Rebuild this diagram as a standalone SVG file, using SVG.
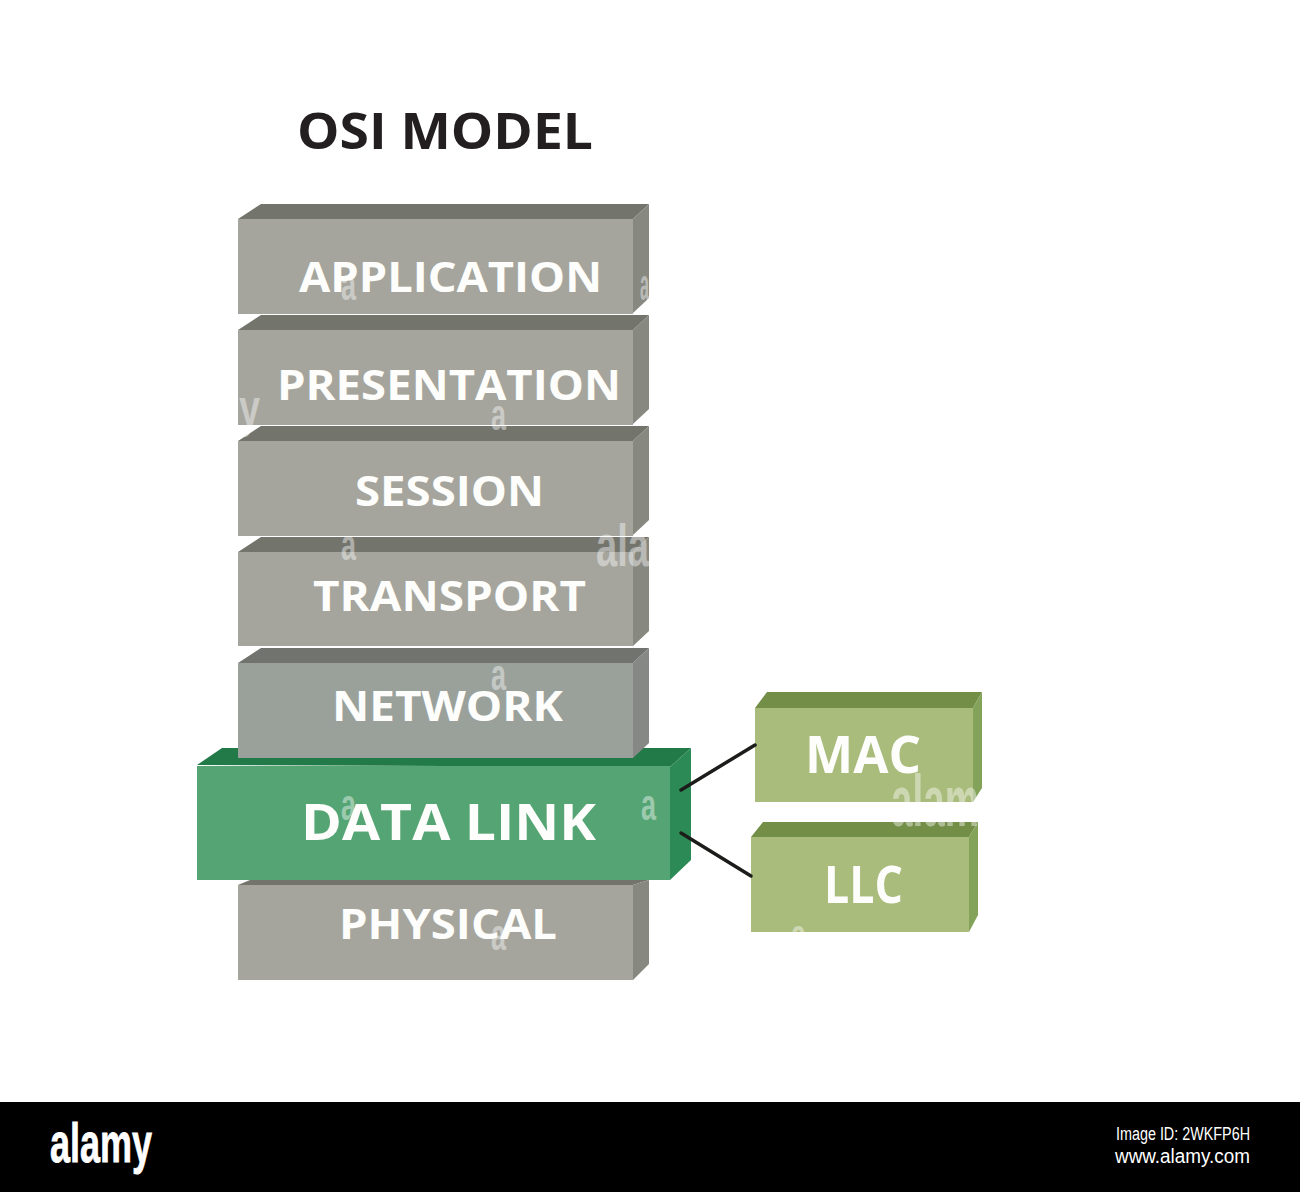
<svg xmlns="http://www.w3.org/2000/svg" width="1300" height="1192" viewBox="0 0 1300 1192">
<style>
.lbl{font-family:"Open Sans","Noto Sans","Liberation Sans",sans-serif;font-weight:700;fill:#fdfdfb;font-size:42px}
.big{font-size:52px}
.front{fill:#a5a59d}.top{fill:#73746c}.side{fill:#878880}
.wm{font-family:"Liberation Sans",sans-serif;font-weight:700;fill:#fff;opacity:.42}
.foot{font-family:"Liberation Sans",sans-serif;fill:#fff}
</style>
<rect width="1300" height="1192" fill="#fff"/>
<text id="title" x="297" y="149" textLength="296" lengthAdjust="spacingAndGlyphs" style="font-family:'Open Sans','Noto Sans',sans-serif;font-weight:700;font-size:50px;fill:#231f20">OSI MODEL</text>

<g id="physical">
<polygon class="top" points="238,885 250,880 649,880 633,885"/>
<polygon class="side" points="633,885 649,880 649,964 633,980"/>
<rect class="front" x="238" y="885" width="395" height="95"/>
<text class="lbl" x="339" y="939" textLength="218" lengthAdjust="spacingAndGlyphs">PHYSICAL</text>
</g>
<g id="data-link">
<polygon points="197,765 222,748 691,748 670,767" fill="#227a49"/>
<polygon points="670,767 691,748 691,860 670,880" fill="#2b8a56"/>
<rect x="197" y="766" width="473" height="114" fill="#55a473"/>
<text class="lbl big" x="301" y="840" textLength="295" lengthAdjust="spacingAndGlyphs" style="font-size:50px">DATA LINK</text>
</g>
<g id="application">
<polygon class="top" points="238,219 261,204 649,204 633,219"/>
<polygon class="side" points="633,219 649,204 649,298 633,313"/>
<rect class="front" x="238" y="219" width="395" height="95"/>
<text class="lbl" x="299" y="292" textLength="303" lengthAdjust="spacingAndGlyphs">APPLICATION</text>
</g>
<g id="presentation">
<polygon class="top" points="238,330 261,315 649,315 633,330"/>
<polygon class="side" points="633,330 649,315 649,409 633,424"/>
<rect class="front" x="238" y="330" width="395" height="95"/>
<text class="lbl" x="277" y="400" textLength="344" lengthAdjust="spacingAndGlyphs">PRESENTATION</text>
</g>
<g id="session">
<polygon class="top" points="238,441 261,426 649,426 633,441"/>
<polygon class="side" points="633,441 649,426 649,520 633,535"/>
<rect class="front" x="238" y="441" width="395" height="95"/>
<text class="lbl" x="355" y="506" textLength="189" lengthAdjust="spacingAndGlyphs">SESSION</text>
</g>
<g id="transport">
<polygon class="top" points="238,552 261,537 649,537 633,552"/>
<polygon class="side" points="633,552 649,537 649,631 633,646"/>
<rect class="front" x="238" y="552" width="395" height="94"/>
<text class="lbl" x="313" y="611" textLength="273" lengthAdjust="spacingAndGlyphs">TRANSPORT</text>
</g>
<g id="network">
<polygon points="238,663 261,648 649,648 633,663" fill="#70736e"/>
<polygon points="633,663 649,648 649,743 633,758" fill="#858885"/>
<rect x="238" y="663" width="395" height="95" fill="#9aa19b"/>
<text class="lbl" x="332" y="721" textLength="231" lengthAdjust="spacingAndGlyphs">NETWORK</text>
</g>
<g id="mac">
<polygon points="755,708 767,692 982,692 973,708" fill="#738e46"/>
<polygon points="973,708 982,692 982,788 973,802" fill="#83a35a"/>
<rect x="755" y="708" width="218" height="94" fill="#a9bc7c"/>
<text class="lbl" x="805" y="773" textLength="116" lengthAdjust="spacingAndGlyphs" style="font-size:52px">MAC</text>
</g>
<g id="llc">
<polygon points="751,837 763,822 978,822 969,837" fill="#738e46"/>
<polygon points="969,837 978,822 978,915 969,932" fill="#83a35a"/>
<rect x="751" y="837" width="218" height="95" fill="#a9bc7c"/>
<text class="lbl" x="824" y="903" textLength="79" lengthAdjust="spacingAndGlyphs" style="font-size:52px">LLC</text>
</g>
<g id="connectors" stroke="#1c1c1a" stroke-width="3.5" stroke-linecap="round">
<line x1="681" y1="790" x2="755" y2="745"/>
<line x1="681" y1="833" x2="751" y2="876"/>
</g>
<g id="watermark">
<text class="wm" x="341" y="300" font-size="44" textLength="15" lengthAdjust="spacingAndGlyphs">a</text>
<text class="wm" x="640" y="300" font-size="44" textLength="9" lengthAdjust="spacingAndGlyphs">a</text>
<text class="wm" x="491" y="430" font-size="44" textLength="15" lengthAdjust="spacingAndGlyphs">a</text>
<text class="wm" x="239" y="426" font-size="54" textLength="21" lengthAdjust="spacingAndGlyphs">y</text>
<text class="wm" x="341" y="560" font-size="44" textLength="15" lengthAdjust="spacingAndGlyphs">a</text>
<text class="wm" x="491" y="690" font-size="44" textLength="15" lengthAdjust="spacingAndGlyphs">a</text>
<text class="wm" x="341" y="820" font-size="44" textLength="15" lengthAdjust="spacingAndGlyphs">a</text>
<text class="wm" x="641" y="820" font-size="44" textLength="15" lengthAdjust="spacingAndGlyphs">a</text>
<text class="wm" x="491" y="950" font-size="44" textLength="15" lengthAdjust="spacingAndGlyphs">a</text>
<text class="wm" x="791" y="950" font-size="44" textLength="15" lengthAdjust="spacingAndGlyphs">a</text>
<text class="wm" x="596" y="566" font-size="60" textLength="53" lengthAdjust="spacingAndGlyphs">ala</text>
<text class="wm" x="891" y="826" font-size="72" textLength="88" lengthAdjust="spacingAndGlyphs">alam</text>
</g>
<g id="footer">
<rect y="1102" width="1300" height="90" fill="#000"/>
<text class="foot" x="50" y="1162" font-size="56" font-weight="700" stroke="#fff" stroke-width=".8" textLength="102" lengthAdjust="spacingAndGlyphs">alamy</text>
<text class="foot" x="1116" y="1140" font-size="18" textLength="134" lengthAdjust="spacingAndGlyphs">Image ID: 2WKFP6H</text>
<text class="foot" x="1115" y="1163" font-size="20" textLength="135" lengthAdjust="spacingAndGlyphs">www.alamy.com</text>
</g>
</svg>
